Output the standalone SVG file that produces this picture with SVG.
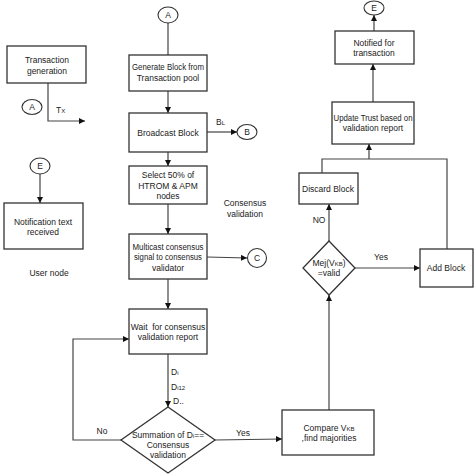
<svg xmlns="http://www.w3.org/2000/svg" width="474" height="474" viewBox="0 0 474 474">
<defs>
<marker id="ah" viewBox="0 0 10 10" refX="10" refY="5" markerWidth="6" markerHeight="6" orient="auto-start-reverse" markerUnits="userSpaceOnUse">
<path d="M0,0 L10,5 L0,10 z" fill="#111"/>
</marker>
<style>
.b{fill:#fff;stroke:#333;stroke-width:1.3}
.c{fill:#fff;stroke:#333;stroke-width:1.1}
.l{fill:none;stroke:#444;stroke-width:1.2}
.a{fill:none;stroke:#444;stroke-width:1.2;marker-end:url(#ah)}
text{font-family:"Liberation Sans",Arial,sans-serif;font-size:8.5px;fill:#222;text-anchor:middle;dominant-baseline:central}
.s{font-size:6px}
.L{text-anchor:start}
</style>
</defs>
<rect width="474" height="474" fill="#fff"/>

<g id="connectors">
<polyline class="a" points="48,83 48,121 85,121"/>
<line class="l" x1="168" y1="23" x2="168" y2="55"/>
<line class="a" x1="168" y1="91" x2="168" y2="113"/>
<line class="a" x1="207" y1="132" x2="237" y2="132"/>
<line class="a" x1="168" y1="152" x2="168" y2="166"/>
<line class="a" x1="168" y1="204" x2="168" y2="234"/>
<line class="a" x1="207" y1="257" x2="247" y2="258"/>
<line class="a" x1="168" y1="279" x2="168" y2="309"/>
<line class="a" x1="168" y1="354" x2="168" y2="407"/>
<polyline class="a" points="121,440 73,440 73,339 129,339"/>
<line class="a" x1="215" y1="440" x2="282" y2="439"/>
<line class="a" x1="329" y1="410" x2="329" y2="295"/>
<line class="a" x1="329" y1="241" x2="329" y2="204"/>
<line class="a" x1="355" y1="268" x2="420" y2="268"/>
<polyline class="l" points="322,173 322,159 447,159 447,249"/>
<line class="a" x1="369" y1="159" x2="369" y2="144"/>
<line class="a" x1="373" y1="102" x2="373" y2="64"/>
<line class="a" x1="374" y1="31" x2="374" y2="15"/>
<line class="a" x1="40" y1="174" x2="40" y2="203"/>
</g>

<g id="txgen"><rect class="b" x="7" y="46" width="79" height="37"/><text x="47" y="60">Transaction</text><text x="47" y="71">generation</text></g>
<g id="circleA1"><ellipse class="c" cx="32" cy="107" rx="10" ry="7.5"/><text x="32" y="107">A</text></g>
<g id="tx-label"><text class="L" x="56" y="110">T<tspan class="s" dy="1">X</tspan></text></g>

<g id="circleA2"><ellipse class="c" cx="168" cy="15" rx="10" ry="8"/><text x="168" y="15">A</text></g>
<g id="generate"><rect class="b" x="129" y="55" width="78" height="36"/><text x="168" y="67" textLength="72" lengthAdjust="spacingAndGlyphs">Generate Block from</text><text x="168" y="78">Transaction pool</text></g>
<g id="broadcast"><rect class="b" x="129" y="113" width="78" height="39"/><text x="168" y="133">Broadcast Block</text></g>
<g id="bl-label"><text class="L" x="216" y="122">B<tspan class="s" dy="1">L</tspan></text></g>
<g id="circleB"><ellipse class="c" cx="247" cy="132" rx="10" ry="7.5"/><text x="247" y="132">B</text></g>
<g id="select"><rect class="b" x="129" y="166" width="78" height="38"/><text x="168" y="175">Select 50% of</text><text x="168" y="186">HTROM &amp; APM</text><text x="168" y="196">nodes</text></g>
<g id="multicast"><rect class="b" x="129" y="234" width="78" height="45"/><text x="168" y="247" textLength="71" lengthAdjust="spacingAndGlyphs">Multicast consensus</text><text x="168" y="257" textLength="68" lengthAdjust="spacingAndGlyphs">signal to consensus</text><text x="168" y="268">validator</text></g>
<g id="circleC"><circle class="c" cx="257" cy="258" r="9.5"/><text x="257" y="258">C</text></g>
<g id="consensus-label"><text x="245" y="203">Consensus</text><text x="245" y="214">validation</text></g>
<g id="wait"><rect class="b" x="129" y="309" width="78" height="45"/><text x="168" y="327" xml:space="preserve">Wait  for consensus</text><text x="168" y="337">validation report</text></g>
<g id="d-labels"><text class="L" x="171" y="372">D<tspan class="s" dy="1">i</tspan></text><text class="L" x="171" y="387">D<tspan class="s" dy="1">i12</tspan></text><text class="L" x="173" y="401">D..</text></g>
<g id="summation"><polygon class="b" points="168,407 215,440 168,473 121,440"/><text x="168" y="435">Summation of D<tspan class="s" dy="1">i</tspan><tspan dy="-1">==</tspan></text><text x="168" y="445">Consensus</text><text x="168" y="455">validation</text></g>
<g id="no-label"><text x="102" y="431">No</text></g>
<g id="yes-label1"><text x="243" y="433">Yes</text></g>
<g id="compare"><rect class="b" x="282" y="410" width="92" height="45"/><text x="329" y="428">Compare V<tspan class="s" dy="1">KB</tspan></text><text x="329" y="438">,find majorities</text></g>
<g id="mej"><polygon class="b" points="329,241 355,268 329,295 303,268"/><text x="329" y="263">Mej(V<tspan class="s" dy="1">KB</tspan><tspan dy="-1">)</tspan></text><text x="329" y="273">=valid</text></g>
<g id="no-label2"><text x="319" y="220">NO</text></g>
<g id="yes-label2"><text x="381" y="257">Yes</text></g>
<g id="discard"><rect class="b" x="299" y="173" width="59" height="31"/><text x="328" y="189">Discard Block</text></g>
<g id="add"><rect class="b" x="420" y="249" width="53" height="38"/><text x="446" y="268">Add Block</text></g>
<g id="update"><rect class="b" x="332" y="102" width="82" height="42"/><text x="373" y="118" textLength="79" lengthAdjust="spacingAndGlyphs">Update Trust based on</text><text x="373" y="128">validation report</text></g>
<g id="notified"><rect class="b" x="335" y="31" width="79" height="33"/><text x="374" y="43">Notified for</text><text x="374" y="53">transaction</text></g>
<g id="circleE1"><ellipse class="c" cx="374" cy="8" rx="10" ry="7"/><text x="374" y="8">E</text></g>
<g id="circleE2"><ellipse class="c" cx="40" cy="166" rx="10" ry="8"/><text x="40" y="166">E</text></g>
<g id="notification"><rect class="b" x="4" y="203" width="79" height="46"/><text x="43" y="222">Notification text</text><text x="43" y="232">received</text></g>
<g id="user-node"><text x="49" y="273">User node</text></g>
</svg>
